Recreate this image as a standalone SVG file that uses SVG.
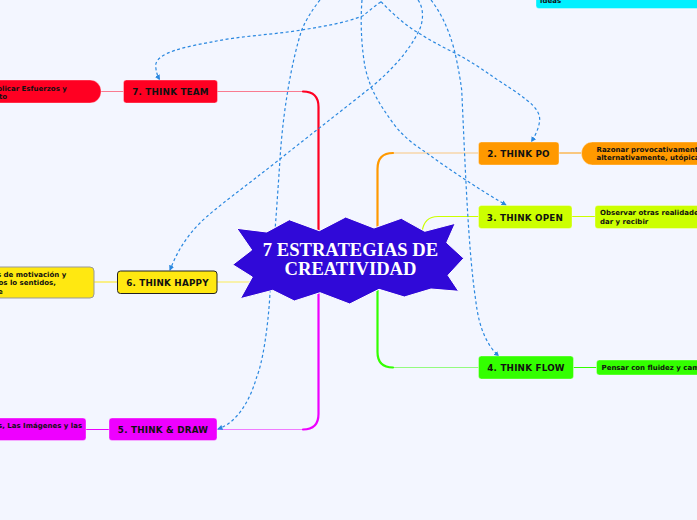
<svg xmlns="http://www.w3.org/2000/svg" width="697" height="520" viewBox="0 0 697 520">
<style>
.n{font:bold 8.8px "DejaVu Sans",sans-serif;fill:#111;text-anchor:middle;letter-spacing:.2px}
.s{font:bold 7px "DejaVu Sans",sans-serif;fill:#111}
.t{font:bold 18.6px "Liberation Serif",serif;fill:#fff;text-anchor:middle}
.b{fill:none;stroke-linecap:round}
.d{fill:none;stroke:#2a88e0;stroke-width:1.200;stroke-dasharray:3 2.500;marker-end:url(#a)}
g rect{stroke:#fff;stroke-opacity:.35}
#n6 rect{stroke:#222;stroke-opacity:1}
#s6 rect{stroke:#999;stroke-opacity:1}
</style>
<defs><marker id="a" viewBox="0 0 6 6" refX="5" refY="3" markerWidth="4.500" markerHeight="4.500" orient="auto"><path d="M0 0L6 3L0 6Z" fill="#2a88e0"/></marker></defs>
<rect width="697" height="520" fill="#f3f6ff"/>
<g id="connectors">
<path class="b" d="M217 91.500H303" stroke="#ff0022" stroke-opacity=".5"/>
<path class="b" d="M303 91.500Q318.500 91.500 318.500 107V232" stroke="#ff0022" stroke-width="2.200"/>
<path class="b" d="M217 429.500H303" stroke="#ee00ff" stroke-opacity=".5"/>
<path class="b" d="M303 429.500Q318.500 429.500 318.500 414V290" stroke="#ee00ff" stroke-width="2.200"/>
<path class="b" d="M478 153H393" stroke="#ff9900" stroke-opacity=".5"/>
<path class="b" d="M393 153Q377.500 153 377.500 169V230" stroke="#ff9900" stroke-width="2.200"/>
<path class="b" d="M478 367.500H393" stroke="#33ff00" stroke-opacity=".5"/>
<path class="b" d="M393 367.500Q377.500 367.500 377.500 352V290" stroke="#33ff00" stroke-width="2.200"/>
<path class="b" d="M478 216.500H438Q424 216.500 422 232" stroke="#ccff00" stroke-width="1.200"/>
<path class="b" d="M217 282H250" stroke="#ffe811" stroke-width="1" stroke-opacity=".7"/>
<path class="b" d="M101 91.500H123" stroke="#ff0022" stroke-opacity=".5"/>
<path class="b" d="M94 282H117" stroke="#ffe811" stroke-width="1"/>
<path class="b" d="M86 429.500H109" stroke="#ee00ff"/>
<path class="b" d="M559 153H581" stroke="#ff9900"/>
<path class="b" d="M572 216.500H595" stroke="#ccff00"/>
<path class="b" d="M574 367.500H596" stroke="#33ff00"/>
<path class="d" d="M381 1.700C372 8 368 12 363 15.700C345 23 325 26 301.700 30C270 35 240 36 213 41.700C190 46 155 52 155.700 66C156 71 157 75 159.500 79.500"/>
<path class="d" d="M381 1.700C392 13 405 25 418 32.700C430 40 442 47 455 53C470 61 482 69 493 76.700C505 85 517 92 526.700 100C537 108 541 115 539.300 123C538 130 535 136 531.500 141.500"/>
<path class="d" d="M362 0C360 25 362 50 365 66.700C370 90 380 105 393 123C403 137 415 145 426.700 153C450 170 480 190 506 205"/>
<path class="d" d="M431 0C445 18 452 40 455 53C459 70 461 85 461.700 90C465 160 468 250 475.700 300C479 330 488 346 498.500 356"/>
<path class="d" d="M418 0C424 8 424 22 418 32.700C408 52 392 70 371.700 86.700C340 112 300 143 280 159C245 187 215 208 200 223C186 237 177 252 170 270"/>
<path class="d" d="M320 0C312 10 306 20 301.700 30C292 60 283 110 280 159C277 205 273 260 270 293C268 330 262 365 256.700 377C250 400 238 422 218 429"/>
</g>
<g id="center"><polygon points="236.700,228.300 266.700,232 289.300,219.700 319.300,230.700 345.700,217 374,228 401.300,218.300 424.700,231.300 455.300,223.300 446.700,242.700 463.700,258.300 448,275.300 458.700,291.300 431,289 404.300,297 379,289.300 349.700,304 320,292.700 294.300,301 272.700,290.300 240.300,298.700 252.300,277 232.700,264.700 251.700,250" fill="#3009d8" stroke="#fff" stroke-width="1"/>
<text class="t" x="350.500" y="256">7 ESTRATEGIAS DE</text><text class="t" x="350.500" y="275">CREATIVIDAD</text></g>
<g id="n7"><rect x="123.500" y="80" width="94" height="23" rx="3" fill="#ff0022"/><text class="n" x="170.500" y="95">7. THINK TEAM</text></g>
<g id="s7"><rect x="-20" y="80" width="121" height="23" rx="11" fill="#ff0022"/><text class="s" x="-3" y="90.500">plicar Esfuerzos y</text><text class="s" x="-1" y="98.500">to</text></g>
<g id="n6"><rect x="117.500" y="271" width="99.500" height="22.500" rx="3" fill="#ffe811" stroke-width="1"/><text class="n" x="167.500" y="286">6. THINK HAPPY</text></g>
<g id="s6"><rect x="-20" y="267" width="114" height="31" rx="4" fill="#ffe811" stroke-width="1"/><text class="s" x="-3" y="277">s de motivación y</text><text class="s" x="-1.500" y="285">os lo sentidos,</text><text class="s" x="-2" y="294">e</text></g>
<g id="n5"><rect x="109" y="418" width="108" height="22.500" rx="3" fill="#ee00ff"/><text class="n" x="163" y="433">5. THINK &amp; DRAW</text></g>
<g id="s5"><rect x="-20" y="418" width="106" height="22.500" rx="3" fill="#ee00ff"/><text class="s" x="-2" y="428">s, Las Imágenes y las</text></g>
<g id="n2"><rect x="478.500" y="142" width="80.500" height="23" rx="3" fill="#ff9900"/><text class="n" x="518.500" y="157">2. THINK PO</text></g>
<g id="s2"><rect x="581.500" y="142" width="136" height="23" rx="11" fill="#ff9900"/><text class="s" x="596.500" y="152">Razonar provocativament</text><text class="s" x="596.500" y="160">alternativamente, utópica</text></g>
<g id="n3"><rect x="478.500" y="205.500" width="93.500" height="23" rx="3" fill="#ccff00"/><text class="n" x="525" y="220.500">3. THINK OPEN</text></g>
<g id="s3"><rect x="595" y="205.500" width="122" height="23" rx="3" fill="#ccff00"/><text class="s" x="600" y="215">Observar otras realidade</text><text class="s" x="600" y="224">dar y recibir</text></g>
<g id="n4"><rect x="478.500" y="356" width="95" height="23" rx="3" fill="#33ff00"/><text class="n" x="526" y="371">4. THINK FLOW</text></g>
<g id="s4"><rect x="596.500" y="360" width="120" height="15" rx="3" fill="#33ff00"/><text class="s" x="601.500" y="370">Pensar con fluidez y cam</text></g>
<g id="s1"><rect x="536" y="-20" width="180" height="28.500" rx="3" fill="#00f0ff"/><text class="s" x="540" y="3">ideas</text></g>
</svg>
